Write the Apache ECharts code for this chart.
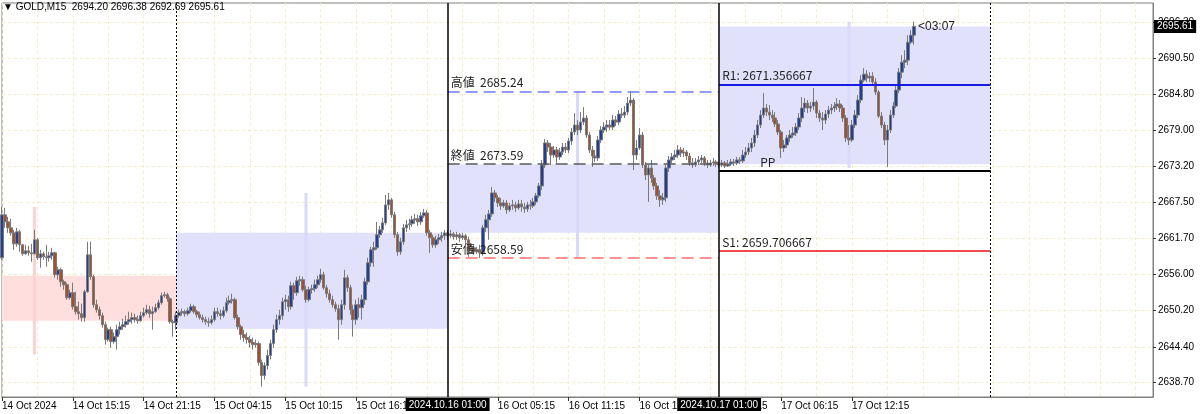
<!DOCTYPE html>
<html><head><meta charset="utf-8">
<script src="https://cdn.jsdelivr.net/npm/echarts@6/dist/echarts.min.js"></script>
<style>html,body{margin:0;padding:0;background:#fff}#c{width:1200px;height:414px}</style>
</head><body><div id="c"></div>
<script>
// ---- GOLD M15 bars, index 0 = 14 Oct 09:15 (server time) ----
const opens = [
2658.64,2665.50,2664.38,2663.42,2662.62,2660.87,2662.78,2660.71,2659.28,2659.75,
2659.43,2659.28,2661.51,2658.64,2659.28,2658.80,2658.64,2658.96,2659.43,2655.93,
2656.72,2654.81,2654.33,2652.26,2653.05,2650.82,2650.02,2649.71,2649.07,2653.21,
2659.12,2655.61,2651.14,2650.34,2649.39,2647.95,2645.56,2647.15,2645.24,2646.04,
2647.15,2647.63,2647.95,2648.43,2648.75,2649.07,2648.75,2648.59,2649.39,2649.87,
2650.34,2649.71,2650.02,2650.66,2651.46,2652.58,2652.74,2652.10,2648.43,
2648.27,2649.39,2649.87,2650.02,2649.71,2650.18,2650.82,2650.02,2649.55,2649.07,
2648.75,2648.43,2648.27,2648.75,2650.02,2649.71,2649.39,2650.18,2651.46,2651.78,
2651.94,2649.07,2647.63,2646.36,2645.88,2645.56,2645.08,2644.76,2644.92,2641.89,
2639.82,2641.41,2643.01,2644.92,2647.15,2648.75,2649.39,2651.62,2651.94,2650.82,
2654.17,2653.05,2654.97,2655.13,2653.53,2651.94,2653.53,2653.69,2654.33,2655.13,
2655.93,2653.85,2652.90,2651.94,2651.14,2650.50,2648.75,2651.14,2655.45,2653.85,
2650.34,2648.75,2651.14,2650.66,2651.94,2654.81,2657.84,2659.91,2660.23,2662.31,
2663.10,2664.22,2667.09,2667.89,2665.50,2662.31,2659.59,2661.19,2663.42,2663.90,
2664.06,2664.70,2664.86,2664.38,2665.34,2665.81,2662.62,2661.83,2660.71,2661.51,
2661.83,2662.15,
2662.62,2662.15,2662.46,2661.99,2662.31,2661.83,2662.15,2661.51,2659.91,2660.23,
2659.59,2659.91,2659.43,2663.42,2664.70,2665.65,2669.00,2668.21,2667.41,2666.93,
2667.41,2666.29,2666.93,2667.09,2666.61,2667.25,2666.77,2666.45,2667.09,2666.93,
2667.57,2668.53,2670.12,2673.47,2676.98,2676.34,2675.06,2675.86,2674.75,2675.54,
2676.34,2675.86,2677.30,2678.73,2679.85,2679.05,2680.33,2680.97,2678.25,2675.86,
2674.90,2674.59,2677.46,2679.05,2679.53,2679.85,2679.53,2680.65,2680.33,2681.60,
2681.44,2681.92,2683.36,2683.84,2675.06,2676.18,2678.25,2673.47,2671.87,2672.99,
2671.40,2670.12,2668.53,2667.89,2668.21,2672.99,2674.27,2674.75,2675.06,2675.86,
2675.38,2675.54,2674.90,2673.79,2673.47,2673.95,2674.27,2674.59,2673.79,2673.47,
2673.79,2673.95,
2673.59,2673.47,2673.79,2673.31,2673.63,2673.95,2673.79,2674.27,2674.11,2675.06,
2675.54,2676.18,2676.98,2678.25,2679.85,2681.44,2682.56,2681.92,2681.44,2680.97,
2680.01,2678.73,2676.18,2676.66,2677.78,2678.25,2678.57,2679.53,2680.97,2682.56,
2683.36,2682.56,2682.88,2683.52,2681.76,2680.97,2680.65,2681.60,2682.24,2682.56,
2682.88,2683.20,2682.56,2680.97,2677.78,2677.46,2679.85,2681.44,2683.84,2687.03,
2687.98,2687.35,2687.66,2686.71,2685.11,2681.28,2679.85,2677.46,2679.05,2681.44,
2682.88,2685.43,2688.30,2689.90,2690.22,2693.09,2694.20
];
const closes = [
2665.50,2664.38,2663.42,2662.62,2660.87,2662.78,2660.71,2659.28,2659.75,2659.43,
2659.28,2661.51,2658.64,2659.28,2658.80,2658.64,2658.96,2659.43,2655.93,2656.72,
2654.81,2654.33,2652.26,2653.05,2650.82,2650.02,2649.71,2649.07,2653.21,2659.12,
2655.61,2651.14,2650.34,2649.39,2647.95,2645.56,2647.15,2645.24,2646.04,2647.15,
2647.63,2647.95,2648.43,2648.75,2649.07,2648.75,2648.59,2649.39,2649.87,2650.34,
2649.71,2650.02,2650.66,2651.46,2652.58,2652.74,2652.10,2648.43,2648.27,
2649.39,2649.87,2650.02,2649.71,2650.18,2650.82,2650.02,2649.55,2649.07,2648.75,
2648.43,2648.27,2648.75,2650.02,2649.71,2649.39,2650.18,2651.46,2651.78,2651.94,
2649.07,2647.63,2646.36,2645.88,2645.56,2645.08,2644.76,2644.92,2641.89,2639.82,
2641.41,2643.01,2644.92,2647.15,2648.75,2649.39,2651.62,2651.94,2650.82,2654.17,
2653.05,2654.97,2655.13,2653.53,2651.94,2653.53,2653.69,2654.33,2655.13,2655.93,
2653.85,2652.90,2651.94,2651.14,2650.50,2648.75,2651.14,2655.45,2653.85,2650.34,
2648.75,2651.14,2650.66,2651.94,2654.81,2657.84,2659.91,2660.23,2662.31,2663.10,
2664.22,2667.09,2667.89,2665.50,2662.31,2659.59,2661.19,2663.42,2663.90,2664.06,
2664.70,2664.86,2664.38,2665.34,2665.81,2662.62,2661.83,2660.71,2661.51,2661.83,
2662.15,2662.62,
2662.15,2662.46,2661.99,2662.31,2661.83,2662.15,2661.51,2659.91,2660.23,2659.59,
2659.91,2659.43,2663.42,2664.70,2665.65,2669.00,2668.21,2667.41,2666.93,2667.41,
2666.29,2666.93,2667.09,2666.61,2667.25,2666.77,2666.45,2667.09,2666.93,2667.57,
2668.53,2670.12,2673.47,2676.98,2676.34,2675.06,2675.86,2674.75,2675.54,2676.34,
2675.86,2677.30,2678.73,2679.85,2679.05,2680.33,2680.97,2678.25,2675.86,2674.90,
2674.59,2677.46,2679.05,2679.53,2679.85,2679.53,2680.65,2680.33,2681.60,2681.44,
2681.92,2683.36,2683.84,2675.06,2676.18,2678.25,2673.47,2671.87,2672.99,2671.40,
2670.12,2668.53,2667.89,2668.21,2672.99,2674.27,2674.75,2675.06,2675.86,2675.38,
2675.54,2674.90,2673.79,2673.47,2673.95,2674.27,2674.59,2673.79,2673.47,2673.79,
2673.95,2673.59,
2673.47,2673.79,2673.31,2673.63,2673.95,2673.79,2674.27,2674.11,2675.06,2675.54,
2676.18,2676.98,2678.25,2679.85,2681.44,2682.56,2681.92,2681.44,2680.97,2680.01,
2678.73,2676.18,2676.66,2677.78,2678.25,2678.57,2679.53,2680.97,2682.56,2683.36,
2682.56,2682.88,2683.52,2681.76,2680.97,2680.65,2681.60,2682.24,2682.56,2682.88,
2683.20,2682.56,2680.97,2677.78,2677.46,2679.85,2681.44,2683.84,2687.03,2687.98,
2687.35,2687.66,2686.71,2685.11,2681.28,2679.85,2677.46,2679.05,2681.44,2682.88,
2685.43,2688.30,2689.90,2690.22,2693.09,2694.20,2695.61
];
const highs = [
2666.77,2666.61,2665.18,2664.86,2663.10,2663.42,2663.10,2660.87,2660.71,2660.55,
2660.87,2663.10,2661.83,2659.91,2659.59,2660.71,2659.59,2660.23,2659.59,2657.20,
2657.04,2655.13,2654.65,2653.53,2654.65,2653.21,2651.62,2651.30,2653.53,2661.19,
2661.19,2655.93,2651.94,2650.82,2649.87,2648.43,2647.47,2647.63,2646.67,2647.95,
2648.43,2648.91,2649.39,2650.02,2649.87,2649.71,2649.39,2650.02,2650.66,2651.14,
2650.98,2650.82,2651.30,2651.94,2653.05,2653.21,2653.05,2652.42,2648.75,
2650.02,2650.34,2650.50,2650.34,2650.66,2651.30,2651.14,2650.34,2650.02,2649.55,
2649.23,2649.07,2649.39,2650.66,2650.66,2650.34,2650.82,2652.26,2652.58,2652.90,
2652.26,2649.55,2647.95,2647.15,2646.67,2646.20,2645.88,2645.56,2645.24,2642.37,
2641.89,2643.96,2645.56,2647.95,2649.55,2650.34,2652.26,2652.74,2652.58,2654.81,
2654.65,2655.61,2655.77,2655.61,2654.17,2654.01,2654.33,2655.13,2655.77,2656.88,
2656.40,2654.33,2653.53,2652.58,2651.62,2651.14,2651.94,2656.72,2655.93,2654.33,
2651.14,2651.94,2652.26,2652.74,2655.45,2658.64,2660.39,2661.19,2664.38,2663.74,
2665.02,2668.68,2669.00,2668.21,2665.97,2662.78,2661.83,2664.06,2664.70,2664.86,
2665.34,2665.65,2665.50,2665.97,2666.45,2666.29,2663.10,2662.31,2662.15,2662.46,
2662.78,2663.10,
2663.10,2663.10,2662.78,2662.78,2662.62,2662.62,2662.46,2661.99,2660.71,2660.71,
2660.39,2660.71,2663.90,2665.50,2666.29,2669.96,2669.48,2668.68,2668.21,2667.89,
2667.89,2667.41,2667.89,2667.57,2667.89,2667.89,2667.41,2667.57,2667.89,2668.21,
2669.00,2670.60,2674.27,2677.62,2677.46,2676.98,2676.50,2676.34,2676.18,2676.98,
2676.98,2677.78,2679.37,2681.76,2680.65,2681.92,2682.72,2681.44,2678.73,2676.50,
2675.86,2678.09,2679.69,2680.33,2680.65,2680.65,2681.44,2681.28,2682.24,2682.56,
2682.88,2684.31,2685.24,2684.15,2677.46,2679.37,2678.73,2673.95,2673.47,2674.27,
2671.87,2670.60,2669.48,2669.00,2673.47,2674.90,2675.38,2675.86,2676.66,2676.34,
2676.18,2675.86,2675.38,2674.59,2674.59,2674.90,2675.06,2674.90,2674.27,2674.27,
2674.59,2674.27,
2674.11,2674.27,2674.11,2674.27,2674.43,2674.43,2674.75,2674.75,2675.86,2676.34,
2676.98,2677.78,2679.05,2680.65,2682.24,2684.95,2683.20,2683.04,2682.24,2681.92,
2680.65,2679.05,2677.46,2678.25,2679.05,2679.53,2680.17,2681.76,2684.31,2684.15,
2683.84,2683.52,2685.75,2683.84,2682.24,2681.92,2682.24,2682.88,2683.20,2683.52,
2684.15,2683.84,2683.04,2681.44,2679.85,2680.65,2682.24,2684.63,2687.82,2688.94,
2688.62,2688.30,2688.30,2687.35,2685.43,2681.92,2680.33,2679.85,2682.24,2683.52,
2686.23,2688.94,2691.01,2691.81,2694.20,2695.00,2696.38
];
const lows = [
2658.32,2663.42,2662.62,2662.15,2659.91,2660.39,2659.59,2658.96,2659.12,2658.96,
2658.00,2659.12,2658.32,2657.04,2658.32,2657.20,2658.00,2658.32,2655.45,2655.13,
2654.01,2653.53,2651.94,2651.94,2650.34,2649.55,2648.75,2648.43,2648.43,2653.05,
2655.13,2650.66,2649.87,2648.75,2647.47,2644.76,2645.24,2644.28,2644.92,2643.96,
2646.36,2647.15,2647.47,2647.95,2648.11,2648.27,2648.11,2648.43,2649.07,2649.55,
2649.07,2647.15,2649.87,2650.34,2651.14,2652.26,2651.62,2648.11,2646.04,
2647.15,2649.07,2649.39,2649.23,2649.39,2649.87,2649.71,2649.07,2648.75,2648.27,
2647.95,2647.63,2647.95,2648.43,2649.23,2648.75,2649.07,2649.87,2651.14,2651.30,
2648.75,2647.15,2645.56,2645.24,2644.92,2644.28,2643.96,2644.28,2641.41,2638.06,
2639.18,2640.77,2642.37,2644.28,2646.67,2647.95,2648.75,2650.34,2650.02,2650.34,
2651.94,2652.58,2654.17,2653.21,2651.46,2651.62,2652.90,2653.21,2653.85,2654.65,
2653.53,2652.26,2651.46,2650.66,2650.02,2645.56,2647.95,2650.34,2653.21,2649.55,
2646.04,2647.95,2649.07,2648.75,2651.14,2654.33,2657.20,2657.20,2659.91,2661.83,
2662.62,2663.90,2666.29,2665.02,2661.83,2658.96,2659.12,2660.71,2662.78,2663.10,
2663.58,2664.06,2663.74,2663.90,2665.02,2662.15,2659.43,2660.23,2660.23,2660.87,
2661.19,2661.51,
2661.51,2661.83,2661.51,2661.51,2661.19,2661.51,2660.87,2658.80,2659.43,2659.12,
2659.28,2658.59,2658.96,2662.78,2661.51,2665.18,2667.57,2666.77,2666.29,2666.61,
2665.65,2665.97,2666.29,2665.97,2666.29,2665.97,2665.81,2665.97,2666.29,2666.61,
2667.09,2668.21,2669.48,2672.99,2675.54,2673.47,2674.59,2673.79,2674.27,2675.06,
2675.38,2675.38,2676.66,2678.25,2678.25,2678.57,2679.85,2677.78,2675.38,2673.15,
2673.95,2674.11,2676.98,2678.57,2678.73,2679.05,2679.05,2679.69,2679.85,2680.97,
2680.97,2681.44,2682.88,2672.67,2674.27,2675.86,2672.99,2671.08,2667.57,2670.60,
2669.48,2667.89,2666.77,2667.09,2667.57,2672.35,2673.79,2674.27,2674.59,2674.75,
2674.75,2674.27,2673.31,2672.99,2673.15,2673.47,2673.79,2673.31,2672.99,2673.15,
2673.31,2673.15,
2672.99,2673.15,2672.99,2673.15,2673.31,2673.31,2673.47,2673.63,2673.79,2674.59,
2675.06,2675.54,2676.34,2677.78,2679.37,2680.97,2681.28,2680.65,2680.33,2679.53,
2678.25,2674.59,2675.54,2676.18,2677.14,2677.78,2678.09,2679.05,2680.33,2681.92,
2681.76,2681.92,2682.24,2680.97,2680.33,2679.05,2680.01,2680.97,2681.60,2681.92,
2682.24,2681.92,2680.33,2677.14,2676.66,2677.14,2679.37,2680.97,2683.36,2686.71,
2686.71,2686.71,2686.23,2684.63,2680.97,2679.37,2676.66,2673.15,2678.57,2680.97,
2682.56,2684.95,2687.35,2688.94,2689.42,2692.77,2692.69
];

// ---- axes ----
const barCount = 391;                    // slots on the time axis (incl. empty right margin)
const xTickIdx = [0,24,48,72,96,120,144,168,192,216,240,264,288];
const xTickText = ['14 Oct 2024','14 Oct 15:15','14 Oct 21:15','15 Oct 04:15','15 Oct 10:15','15 Oct 16:15',
  '15 Oct 22:15','16 Oct 05:15','16 Oct 11:15','16 Oct 17:15','16 Oct 23:15','17 Oct 06:15','17 Oct 12:15'];
const dayBoxIdx = [151, 243];
const dayBoxText = ['2024.10.16 01:00', '2024.10.17 01:00'];
const yTickValues = [2638.70,2644.40,2650.20,2656.00,2661.70,2667.50,2673.20,2679.00,2684.80,2690.50,2696.30];

// ---- daily candle overlay (14..17 Oct) ----
const dayFrom  = [0, 59, 151, 243];
const dayTo    = [59, 151, 243, 335];
const dayMid   = [11, 103, 195, 287];
const dayOpen  = [2655.77, 2647.31, 2662.62, 2673.59];
const dayClose = [2648.59, 2662.62, 2673.59, 2695.61];
const dayHigh  = [2666.77, 2669.00, 2685.24, 2696.38];
const dayLow   = [2643.17, 2638.06, 2658.59, 2672.99];

// ---- previous-day levels and pivots ----
const prevHigh = 2685.24, prevClose = 2673.59, prevLow = 2658.59;
const pivotR1 = 2686.356667, pivotPP = 2672.473333, pivotS1 = 2659.706667;
const r1Text = 'R1: 2671.356667', s1Text = 'S1: 2659.706667';
const sepSolid = [151, 243], sepDotted = [59, 335];
const lastIdx = 309, lastPrice = 2695.61, timerText = '<03:07';
const symbolName = 'GOLD,M15';
const lastOHLC = [2694.20, 2696.38, 2692.69, 2695.61];

const cats = Array.from({length: barCount}, (_, i) => String(i));
const candles = closes.map((c, i) => [opens[i], c, lows[i], highs[i]]);
const days = dayFrom.map((f, i) => [f, dayTo[i], dayOpen[i], dayClose[i], dayHigh[i], dayLow[i], dayMid[i]]);

const FONT = 'Liberation Sans';
const JFONT = 'Noto Sans CJK JP';
const labelTxt = {color: '#222', fontSize: 12, fontFamily: JFONT};

function seg(x1, x2, y, color, type, width, text, extra) {
  return [
    {coord: [x1, y], lineStyle: {color, type, width},
     label: Object.assign({show: !!text, formatter: text || '', position: 'insideStartTop', distance: 3}, labelTxt, extra || {})},
    {coord: [x2, y]}
  ];
}

const chart = echarts.init(document.getElementById('c'), null, {renderer: 'canvas'});
chart.setOption({
  animation: false,
  backgroundColor: '#ffffff',
  title: {
    text: '\u25BC ' + symbolName + '  ' + lastOHLC.map(v => v.toFixed(2)).join(' '),
    left: 3, top: 2, padding: 0,
    textStyle: {fontSize: 10, fontWeight: 'normal', color: '#000', fontFamily: FONT}
  },
  grid: {left: 2, right: 47, top: 3, bottom: 17, show: true, borderColor: '#808080', borderWidth: 1,
         containLabel: false, outerBoundsMode: 'none'},
  xAxis: [{
    type: 'category', data: cats, boundaryGap: false,
    axisLine: {show: true, lineStyle: {color: '#808080'}},
    axisTick: {show: true, inside: false, length: 4, interval: (i) => xTickIdx.includes(i), lineStyle: {color: '#333'}},
    axisLabel: {show: true, interval: (i) => xTickIdx.includes(i), align: 'left', margin: 4,
      formatter: (v, i) => { const k = xTickIdx.indexOf(Number(v)); return k >= 0 ? xTickText[k] : ''; },
      fontSize: 10, color: '#000', fontFamily: FONT},
    splitLine: {show: true, interval: (i) => i % 12 === 0, lineStyle: {color: '#f4eec8', type: [3, 3], width: 1}}
  }, {
    type: 'category', data: cats, boundaryGap: false, position: 'bottom',
    axisLine: {show: false}, axisTick: {show: false}, splitLine: {show: false},
    axisLabel: {show: true, interval: (i) => dayBoxIdx.includes(i), align: 'center', margin: 1,
      formatter: (v) => { const k = dayBoxIdx.indexOf(Number(v)); return k >= 0 ? dayBoxText[k] : ''; },
      fontSize: 10, color: '#fff', backgroundColor: '#000', padding: [2, 3, 1, 3], fontFamily: FONT}
  }],
  yAxis: {
    type: 'value', position: 'right', min: 2636.39, max: 2699.35, scale: true,
    axisLine: {show: true, lineStyle: {color: '#808080'}},
    axisTick: {show: true, length: 3, customValues: yTickValues, lineStyle: {color: '#333'}},
    axisLabel: {show: true, customValues: yTickValues, formatter: (v) => v.toFixed(2), margin: 5,
      fontSize: 10, color: '#000', fontFamily: FONT},
    splitLine: {show: true, lineStyle: {color: '#f4eec8', type: [3, 3], width: 1}}
  },
  series: [{
    type: 'custom', name: 'daily', z: 1, silent: true,
    encode: {x: [0, 1, 6], y: [2, 3, 4, 5]},
    data: days,
    renderItem: (params, api) => {
      const f = api.value(0), t = api.value(1), o = api.value(2), c = api.value(3);
      const h = api.value(4), l = api.value(5), m = api.value(6);
      const p1 = api.coord([f, Math.max(o, c)]), p2 = api.coord([t, Math.min(o, c)]);
      const q1 = api.coord([m, h]), q2 = api.coord([m, l]);
      const bull = c >= o;
      return {type: 'group', children: [
        {type: 'rect', shape: {x: p1[0], y: p1[1], width: p2[0] - p1[0], height: p2[1] - p1[1]},
         style: {fill: bull ? '#e1e1fb' : '#ffdede'}},
        {type: 'line', shape: {x1: q1[0], y1: q1[1], x2: q2[0], y2: q2[1]},
         style: {stroke: bull ? '#d9d9fa' : '#ffd2d2', lineWidth: 3}}
      ]};
    }
  }, {
    type: 'candlestick', name: 'GOLD', z: 3, barWidth: 3,
    data: candles,
    itemStyle: {color: '#1f3f9c', color0: '#a4502a', borderColor: '#7a7a7a', borderColor0: '#7a7a7a', borderWidth: 1},
    markLine: {
      silent: true, symbol: ['none', 'none'], animation: false,
      data: [
        seg(151, 243, prevHigh, '#6f7cff', [12, 6], 1.5, '高値  ' + prevHigh.toFixed(2)),
        seg(151, 243, prevClose, '#5a5a5a', [12, 6], 1.5, '終値  ' + prevClose.toFixed(2)),
        seg(151, 243, prevLow, '#ff6f6f', [12, 6], 1.5, '安値  ' + prevLow.toFixed(2)),
        seg(243, 335, pivotR1, '#1a1ae6', 'solid', 2, r1Text),
        seg(243, 335, pivotPP, '#000000', 'solid', 2, 'PP', {padding: [0, 0, 0, 38]}),
        seg(243, 335, pivotS1, '#ee1111', 'solid', 1.5, s1Text),
        ...sepSolid.map(i => ({xAxis: i, lineStyle: {color: '#000', type: 'solid', width: 1.5}, label: {show: false}})),
        ...sepDotted.map(i => ({xAxis: i, lineStyle: {color: '#000', type: [2, 2], width: 1}, label: {show: false}}))
      ]
    },
    markPoint: {
      silent: true, symbol: 'circle', symbolSize: 0, animation: false,
      data: [
        {coord: [lastIdx, lastPrice],
         label: {show: true, position: 'right', distance: 4, formatter: timerText, color: '#222', fontSize: 12, fontFamily: FONT}},
        {coord: [barCount - 1, lastPrice],
         label: {show: true, position: 'right', distance: 1, formatter: lastPrice.toFixed(2), color: '#fff',
                 backgroundColor: '#000', padding: [2, 3, 1, 3], fontSize: 10, fontFamily: FONT}}
      ]
    }
  }]
});
</script>
</body></html>
